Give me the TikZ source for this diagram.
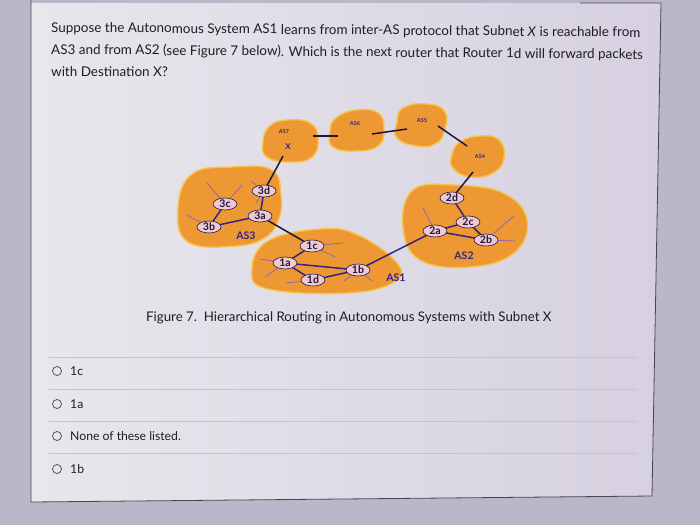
\documentclass[tikz,border=0pt]{standalone}
\usepackage{fontspec}
\setmainfont{Lato}
\usetikzlibrary{shapes.geometric}
\definecolor{bgout}{RGB}{186,184,200}
\definecolor{bginL}{RGB}{232,231,236}
\definecolor{bginR}{RGB}{214,208,224}
\definecolor{framec}{RGB}{70,70,80}
\definecolor{txt}{RGB}{30,30,36}
\definecolor{blobfill}{RGB}{238,152,52}
\definecolor{blobedge}{RGB}{246,196,74}
\definecolor{navy}{RGB}{52,36,130}
\definecolor{dark}{RGB}{28,24,60}
\definecolor{stubc}{RGB}{150,100,180}
\definecolor{routerfill}{RGB}{240,200,210}
\definecolor{sep}{RGB}{196,196,204}
\tikzset{
  blob/.style={fill=blobfill, draw=blobedge, line width=1.4pt},
  router/.style={ellipse, fill=routerfill, draw=dark, line width=0.6pt, inner sep=0pt,
    minimum width=24pt, minimum height=12pt, text=dark,
    font=\fontsize{10.5}{10.5}\selectfont\bfseries},
  aslab/.style={text=navy, font=\fontsize{10.5}{11}\selectfont\bfseries, inner sep=0pt},
  smallas/.style={text=navy, font=\fontsize{5.5}{6}\selectfont\bfseries, inner sep=0pt},
  interlink/.style={draw=dark, line width=1.5pt},
  intralink/.style={draw=navy, line width=1.5pt},
  stub/.style={draw=stubc, line width=0.8pt},
  qtext/.style={anchor=base west, inner sep=0pt, text=txt, rotate=-0.5,
    font=\fontsize{13.45}{15}\selectfont},
  opttext/.style={anchor=west, inner sep=0pt, text=txt, font=\fontsize{12.2}{13}\selectfont},
  radio/.style={circle, draw=framec, line width=0.7pt, minimum size=9pt, inner sep=0pt},
  sepline/.style={draw=sep, line width=0.7pt}
}
\begin{document}
\begin{tikzpicture}[x=1pt,y=-1pt]
\useasboundingbox (0,0) rectangle (700,525);
\fill[bgout] (0,0) rectangle (700,525);
\shade[left color=bginL, right color=bginR] (31,3) -- (661,3) -- (652,496) -- (31,502) -- cycle;
\draw[framec, line width=0.8pt] (31,0) -- (31,502) -- (652,496) -- (661,3) -- (580,3);

% question text
\node[qtext] (q1) at (51,32) {Suppose the Autonomous System AS1 learns from inter-AS protocol that Subnet \textit{X} is reachable from};
\node[qtext] (q2) at (51,54) {AS3 and from AS2 (see Figure 7 below). Which is the next router that Router 1d will forward packets};
\node[qtext] (q3) at (51,76) {with Destination X?};

% blobs
\draw[blob] plot[smooth cycle, tension=0.8] coordinates {(270,126) (288,120) (310,123) (318,138) (312,157) (290,162) (267,157) (263,142)};
\draw[blob] plot[smooth cycle, tension=0.8] coordinates {(336,118) (356,110) (378,113) (384,130) (378,146) (356,151) (333,147) (330,132)};
\draw[blob] plot[smooth cycle, tension=0.8] coordinates {(403,108) (427,104) (445,112) (444,132) (435,144) (417,146) (397,138) (397,122)};
\draw[blob] plot[smooth cycle, tension=0.8] coordinates {(460,142) (480,136) (499,140) (504,158) (493,173) (470,177) (453,168) (452,155)};
\draw[blob] plot[smooth cycle, tension=0.7] coordinates {(192,174) (232,167) (272,170) (281,196) (279,218) (266,237) (236,246) (188,242) (178,208)};
\draw[blob] plot[smooth cycle, tension=0.7] coordinates {(268,241) (321,229) (358,235) (397,263) (394,282) (348,293) (268,289) (252,270)};
\draw[blob] plot[smooth cycle, tension=0.7] coordinates {(413,190) (453,185) (503,193) (527,220) (514,253) (470,267) (420,260) (403,227)};

% AS labels
\node[smallas] (as7) at (284,132) {AS7};
\node[text=navy, font=\fontsize{8}{8}\selectfont\bfseries, inner sep=0pt] (x) at (288,147) {X};
\node[smallas] (as6) at (355,124) {AS6};
\node[smallas] (as5) at (422,121) {AS5};
\node[smallas] (as4) at (480,157) {AS4};
\node[aslab] (as3) at (246,236) {AS3};
\node[aslab] (as1) at (396,278) {AS1};
\node[aslab] (as2) at (464,256) {AS2};

% router positions
\coordinate (p3d) at (264,191);
\coordinate (p3c) at (225,204);
\coordinate (p3a) at (260,216);
\coordinate (p3b) at (209,227);
\coordinate (p1c) at (312,246);
\coordinate (p1a) at (285,263);
\coordinate (p1b) at (358,270);
\coordinate (p1d) at (313,280);
\coordinate (p2d) at (452,198);
\coordinate (p2c) at (468,222);
\coordinate (p2a) at (435,231);
\coordinate (p2b) at (486,240);

% stubs
\draw[stub] (p3c) -- ++(-18,-21);
\draw[stub] (p3c) -- ++(17,-19);
\draw[stub] (p3b) -- ++(-22,-12);
\draw[stub] (p3d) -- ++(-13,-10);
\draw[stub] (p3d) -- ++(-8,12);
\draw[stub] (p1c) -- ++(31,-3);
\draw[stub] (p1c) -- ++(23,11);
\draw[stub] (p1a) -- ++(-25,-4);
\draw[stub] (p1a) -- ++(-20,14);
\draw[stub] (p1d) -- ++(-27,3);
\draw[stub] (p1b) -- ++(14,11);
\draw[stub] (p1b) -- ++(-14,11);
\draw[stub] (p2a) -- ++(-12,-23);
\draw[stub] (p2b) -- ++(30,1);
\draw[stub] (p2b) -- ++(28,-24);

% link end points on AS blobs
\coordinate (e7r) at (313,136);
\coordinate (e6l) at (338,136);
\coordinate (e6r) at (372,134);
\coordinate (e5l) at (407,129);
\coordinate (e5r) at (438,126);
\coordinate (e4l) at (467,146);
\coordinate (e4b) at (473,172);
\coordinate (e7b) at (283,156);

% intra links
\draw[intralink] (p3d) -- (p3a);
\draw[intralink] (p3a) -- (p3b);
\draw[intralink] (p3b) -- (p3c);
\draw[intralink] (p1c) -- (p1a);
\draw[intralink] (p1a) -- (p1b);
\draw[intralink] (p1a) -- (p1d);
\draw[intralink] (p1d) -- (p1b);
\draw[intralink] (p2d) -- (p2c);
\draw[intralink] (p2c) -- (p2b);
\draw[intralink] (p2a) -- (p2b);
\draw[intralink] (p2a) -- (p2c);

% inter links
\draw[interlink] (e7r) -- (e6l);
\draw[interlink] (e6r) -- (e5l);
\draw[interlink] (e5r) -- (e4l);
\draw[interlink] (e4b) -- (p2d);
\draw[interlink] (e7b) -- (p3d);
\draw[interlink] (p3a) -- (p1c);
\draw[intralink] (p1b) -- (p2a);

% routers
\node[router] (r3d) at (p3d) {3d};
\node[router] (r3c) at (p3c) {3c};
\node[router] (r3a) at (p3a) {3a};
\node[router] (r3b) at (p3b) {3b};
\node[router] (r1c) at (p1c) {1c};
\node[router] (r1a) at (p1a) {1a};
\node[router] (r1b) at (p1b) {1b};
\node[router] (r1d) at (p1d) {1d};
\node[router] (r2d) at (p2d) {2d};
\node[router] (r2c) at (p2c) {2c};
\node[router] (r2a) at (p2a) {2a};
\node[router] (r2b) at (p2b) {2b};

% caption
\node[anchor=base west, inner sep=0pt, text=txt, font=\fontsize{13.3}{15}\selectfont] (cap) at (146,321) {Figure 7.\ \ Hierarchical Routing in Autonomous Systems with Subnet X};

% separators
\coordinate (s1l) at (49,357.5); \coordinate (s1r) at (637,357.5);
\coordinate (s2l) at (49,389);   \coordinate (s2r) at (637,389);
\coordinate (s3l) at (49,421);   \coordinate (s3r) at (637,421);
\coordinate (s4l) at (49,453);   \coordinate (s4r) at (637,453);
\draw[sepline] (s1l) -- (s1r);
\draw[sepline] (s2l) -- (s2r);
\draw[sepline] (s3l) -- (s3r);
\draw[sepline] (s4l) -- (s4r);

% options
\node[radio] (o1) at (57,371) {};
\node[opttext] (t1) at (70,371) {1c};
\node[radio] (o2) at (57,404) {};
\node[opttext] (t2) at (70,404) {1a};
\node[radio] (o3) at (57,436) {};
\node[opttext] (t3) at (70,436) {None of these listed.};
\node[radio] (o4) at (57,469) {};
\node[opttext] (t4) at (70,469) {1b};
\end{tikzpicture}
\end{document}
